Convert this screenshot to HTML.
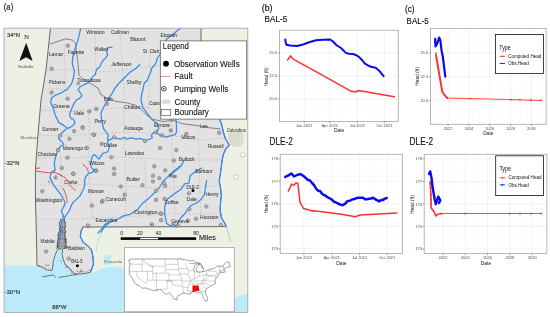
<!DOCTYPE html>
<html><head><meta charset="utf-8"><title>Figure</title>
<style>html,body{margin:0;padding:0;background:#fff;width:550px;height:317px;overflow:hidden}svg{display:block}text{font-family:"Liberation Sans", Arial, sans-serif}</style>
</head><body><svg width="550" height="317" viewBox="0 0 550 317"><defs><clipPath id="mapclip"><rect x="4" y="28.2" width="243.8" height="284.2"/></clipPath></defs><g clip-path="url(#mapclip)"><rect x="4" y="28.2" width="243.8" height="284.2" fill="#ecf1e4"/><path d="M228,133 L236,131.5 L243,133 L244,140 L241,146.5 L233,147 L229,143 Z" fill="#dcdccc"/><rect x="240.3" y="153" width="4.8" height="3.6" rx="0.6" fill="#fafafa" stroke="#999" stroke-width="0.4"/><rect x="233.5" y="175.2" width="4.4" height="3.6" rx="0.6" fill="#fafafa" stroke="#999" stroke-width="0.4"/><polygon points="4.0,264.5 10.0,265.5 16.0,264.5 22.0,265.8 30.0,265.2 37.0,266.0 42.0,266.0 52.0,268.0 55.0,258.0 57.0,249.0 61.0,247.0 63.0,249.0 64.0,258.0 70.0,268.0 76.0,274.5 85.0,274.0 92.0,273.3 99.0,270.0 106.9,267.3 113.2,266.4 122.7,267.7 125.0,268.5 180.0,285.0 234.0,298.0 248.0,293.0 248.0,312.0 4.0,312.0" fill="#bdeafb"/><polygon points="50.5,20.0 201.0,20.0 201.0,28.0 201.0,41.0 205.0,60.0 210.0,80.0 214.0,100.0 219.2,118.0 221.8,125.1 223.5,132.7 225.6,139.0 229.3,145.3 225.6,149.1 223.0,155.4 221.8,163.0 220.5,173.1 219.2,180.7 220.5,188.2 221.4,195.1 220.5,202.7 220.1,210.2 221.4,217.8 224.3,222.5 226.2,226.6 83.0,227.0 81.2,230.8 80.3,236.5 83.1,242.2 88.5,246.5 91.5,250.0 93.0,257.0 93.5,264.0 92.0,268.5 90.3,272.3 86.0,273.3 80.4,274.0 74.7,274.0 72.6,271.9 69.0,267.7 65.5,264.8 63.4,259.9 62.0,254.2 62.7,248.5 60.0,248.0 57.0,250.6 54.9,255.6 53.4,261.3 52.7,267.7 52.0,270.5 46.3,269.8 42.1,267.0 37.0,265.5 36.3,230.0 35.4,200.0 35.4,170.0 36.8,150.0 38.8,125.0 41.0,100.0 46.0,70.0 50.5,28.0" fill="#e2e2e2" stroke="#686868" stroke-width="1.0"/><polyline points="42.1,276.9 48,275.8 53.4,274.8 55.6,277.6" fill="none" stroke="#444" stroke-width="0.7"/><polyline points="58.4,277.6 64,276.5 70.5,275.5 77.6,274" fill="none" stroke="#444" stroke-width="0.7"/></g><g clip-path="url(#mapclip)"><polyline points="46.0,70.0 80.0,70.0 112.0,72.0 140.0,68.0 170.0,64.0 206.0,60.0" fill="none" stroke="#b4b4b4" stroke-width="0.55" stroke-dasharray="2.2,1.6"/><polyline points="44.0,88.0 70.0,90.0" fill="none" stroke="#b4b4b4" stroke-width="0.55" stroke-dasharray="2.2,1.6"/><polyline points="41.0,110.0 60.0,112.0 90.0,110.0 120.0,108.0 150.0,108.0" fill="none" stroke="#b4b4b4" stroke-width="0.55" stroke-dasharray="2.2,1.6"/><polyline points="39.0,135.0 62.0,136.0 90.0,134.0 130.0,132.0 160.0,134.0 200.0,140.0 224.0,138.0" fill="none" stroke="#b4b4b4" stroke-width="0.55" stroke-dasharray="2.2,1.6"/><polyline points="37.5,158.0 70.0,158.0 100.0,156.0 140.0,158.0 180.0,160.0 222.0,160.0" fill="none" stroke="#b4b4b4" stroke-width="0.55" stroke-dasharray="2.2,1.6"/><polyline points="36.3,185.0 60.0,186.0 90.0,184.0 120.0,186.0 160.0,188.0 200.0,186.0 220.0,186.0" fill="none" stroke="#b4b4b4" stroke-width="0.55" stroke-dasharray="2.2,1.6"/><polyline points="36.0,219.0 62.0,219.5 100.0,218.0 140.0,216.0 170.0,214.0 220.0,213.7" fill="none" stroke="#b4b4b4" stroke-width="0.55" stroke-dasharray="2.2,1.6"/><polyline points="64.0,40.0 65.0,70.0 66.0,100.0" fill="none" stroke="#b4b4b4" stroke-width="0.55" stroke-dasharray="2.2,1.6"/><polyline points="95.0,30.0 96.0,70.0" fill="none" stroke="#b4b4b4" stroke-width="0.55" stroke-dasharray="2.2,1.6"/><polyline points="120.0,30.0 122.0,60.0 124.0,90.0 124.0,120.0 125.0,160.0 126.0,190.0 125.0,218.0" fill="none" stroke="#b4b4b4" stroke-width="0.55" stroke-dasharray="2.2,1.6"/><polyline points="150.0,50.0 150.0,80.0 148.0,110.0" fill="none" stroke="#b4b4b4" stroke-width="0.55" stroke-dasharray="2.2,1.6"/><polyline points="88.0,110.0 90.0,135.0 88.0,160.0 90.0,190.0 92.0,218.0" fill="none" stroke="#b4b4b4" stroke-width="0.55" stroke-dasharray="2.2,1.6"/><polyline points="172.0,120.0 172.0,150.0 174.0,180.0 175.0,214.0" fill="none" stroke="#b4b4b4" stroke-width="0.55" stroke-dasharray="2.2,1.6"/><polyline points="198.0,130.0 199.0,160.0 200.0,190.0 201.0,214.0" fill="none" stroke="#b4b4b4" stroke-width="0.55" stroke-dasharray="2.2,1.6"/><polyline points="60.0,140.0 61.0,170.0 62.0,200.0" fill="none" stroke="#b4b4b4" stroke-width="0.55" stroke-dasharray="2.2,1.6"/><polyline points="145.0,160.0 146.0,190.0 147.0,215.0" fill="none" stroke="#b4b4b4" stroke-width="0.55" stroke-dasharray="2.2,1.6"/><polyline points="50.0,44.0 65.2,38.9 72.8,40.2 75.3,43.2 77.9,62.9 79.1,75.5 81.7,78.0 98.0,88.1 100.6,94.4 106.9,98.2 115.2,101.3 125.3,102.6 135.4,105.1 140.4,108.9 145.5,113.9 151.8,119.0 163.1,121.5 173.2,120.3 182.6,123.8 197.8,125.6 207.9,127.6 220.5,128.9" fill="none" stroke="#6a6a6a" stroke-width="0.8"/><polyline points="35.0,171.0 41.4,171.9 48.9,172.8 55.2,171.8" fill="none" stroke="#f03c3c" stroke-width="0.9"/><polyline points="52.7,171.9 60.3,174.7 65.0,177.6 67.9,181.4" fill="none" stroke="#f03c3c" stroke-width="0.9"/><polyline points="58.4,173.8 62.2,176.6" fill="none" stroke="#f03c3c" stroke-width="0.9"/><polyline points="48.0,180.4 49.9,183.3" fill="none" stroke="#f03c3c" stroke-width="0.9"/><polyline points="63.1,188.0 65.0,192.7 66.9,198.4 66.9,203.1" fill="none" stroke="#f03c3c" stroke-width="0.9"/><polyline points="68.8,184.2 72.6,188.0 75.5,190.8" fill="none" stroke="#f03c3c" stroke-width="0.9"/><polyline points="82.6,164.2 86.4,167.1 88.3,171.8" fill="none" stroke="#f03c3c" stroke-width="0.9"/><polyline points="35.0,168.5 40.0,168.0" fill="none" stroke="#f03c3c" stroke-width="0.9"/><polyline points="226.2,226.3 227.5,230 229,236 231,242" fill="none" stroke="#a9c4dc" stroke-width="0.8"/><polyline points="101.3,232.1 99,238 97,245 96,252" fill="none" stroke="#b5d3ea" stroke-width="0.8"/><path d="M103.7,265 L104.5,259 L103.5,254.5 L106.5,256.8 L109,254.3 L111.8,256 L110.3,260 L113,264 Z" fill="#bdeafb"/><polyline points="81.1,27.0 77.9,40.2 75.3,47.7 72.8,56.6 72.3,64.1 74.4,70.7 73.4,78.3 71.5,83.9 67.7,88.7 62.0,92.5 55.4,95.3 51.6,98.1 50.7,102.9 53.5,108.6 55.2,115.0 57.0,118.8 58.9,122.6 63.7,125.4 67.5,128.3 64.6,130.2 61.8,133.0 58.9,135.8 58.6,138.7 61.8,141.5 63.7,144.4 60.8,146.3 58.0,149.1 57.0,152.9 55.2,158.6 54.2,164.2 55.2,169.9 51.8,172.0 50.8,173.8 49.9,177.6 51.8,181.4 53.7,185.2 56.5,188.9 59.4,192.7 62.2,196.5 64.1,200.3 65.0,204.1 63.1,207.9 61.3,210.7 63.1,215.5 64.5,218.0 63.9,221.0" fill="none" stroke="#3a8ae8" stroke-width="1.25" stroke-linejoin="round" stroke-linecap="round"/><polyline points="112.1,47.1 107.7,47.7 106.6,51.5 107.7,54.8 105.5,58.1 103.2,60.3 101.0,63.6 99.9,66.9 96.6,69.2 95.2,74.5 93.3,76.0 91.1,79.5 89.0,82.5 85.7,83.9 80.0,86.8 78.1,89.6 80.0,92.5 81.9,95.3 80.0,98.1 76.3,100.0 74.4,102.9 72.5,106.7 70.6,111.4 69.6,115.2 71.5,119.0 73.1,118.8 75.0,122.6 73.1,125.4 70.3,127.3 67.5,128.3" fill="none" stroke="#3a8ae8" stroke-width="1.25" stroke-linejoin="round" stroke-linecap="round"/><polyline points="139.7,64.7 136.4,68.0 129.7,72.5 124.2,78.0 118.7,83.5 114.3,89.0 112.1,93.4 110.1,96.0 106.3,102.6 103.0,108.5 101.0,113.0 101.5,119.0 102.7,125.0 103.7,128.8 106.5,132.6 108.4,135.4 107.5,139.2 108.4,140.2" fill="none" stroke="#3a8ae8" stroke-width="1.25" stroke-linejoin="round" stroke-linecap="round"/><polyline points="183.2,27.0 178.2,30.0 171.9,35.1 166.8,38.9 162.0,46.0 160.0,54.8 157.3,58.1 156.2,62.5 154.0,65.8 151.8,68.0 150.7,72.5 148.5,76.9 147.4,80.2 144.1,83.5 143.0,89.0 141.9,93.4 140.9,100.0 142.9,107.6 146.7,112.7 150.5,117.7 152.5,120.1 155.0,122.0 156.9,123.3 158.2,126.4 158.8,128.9 156.9,130.8 154.4,132.1 152.5,133.4 151.3,135.9 152.5,137.8 150.0,139.0" fill="none" stroke="#3a8ae8" stroke-width="1.25" stroke-linejoin="round" stroke-linecap="round"/><polyline points="175.9,117.0 176.5,126.4 176.5,132.1 175.3,134.6 170.2,135.9 166.4,137.1 163.9,136.5 160.1,135.3 157.6,133.4 156.3,130.8" fill="none" stroke="#3a8ae8" stroke-width="1.25" stroke-linejoin="round" stroke-linecap="round"/><polyline points="150.0,139.0 145.5,140.5 140.0,138.3 136.8,139.2 131.1,137.9 126.4,139.2 124.5,137.3 120.7,139.2 116.9,138.3 114.1,137.3 111.3,139.2 108.4,140.2 107.5,143.0 109.4,146.8 108.4,150.6 106.5,152.5 102.7,153.4 100.8,156.3 98.9,159.1 97.0,157.2 94.2,154.4 92.3,156.3 91.4,160.0 90.4,163.8 91.4,167.6 94.2,170.5 92.3,172.3 88.5,173.3 85.5,177.0 84.5,181.0 84.9,184.0 84.0,188.0 82.1,191.8 80.2,195.6 76.4,199.4 72.6,203.1 70.7,206.9 69.8,209.8 67.9,212.6 66.0,215.5 64.5,218.0" fill="none" stroke="#3a8ae8" stroke-width="1.25" stroke-linejoin="round" stroke-linecap="round"/><polyline points="180.0,166.3 173.2,171.4 168.2,176.4 163.1,181.5 159.3,187.8 154.3,192.8 149.2,197.9 142.9,202.9 137.9,209.2 130.3,214.3 124.0,215.6 117.7,219.3 110.1,221.9 105.0,224.4 101.3,229.4 98.0,233.0" fill="none" stroke="#3a8ae8" stroke-width="1.25" stroke-linejoin="round" stroke-linecap="round"/><polyline points="183.9,160.5 181.4,165.5 177.6,169.3 172.5,173.1 170.0,175.6" fill="none" stroke="#3a8ae8" stroke-width="1.25" stroke-linejoin="round" stroke-linecap="round"/><polyline points="201.6,168.0 195.3,171.8 190.2,175.6 188.9,183.2 184.6,183.8 180.8,189.5 175.1,193.2 167.6,198.9 164.7,206.5 164.7,214.0 166.6,223.5 171.3,226.3 177.0,225.4" fill="none" stroke="#3a8ae8" stroke-width="1.25" stroke-linejoin="round" stroke-linecap="round"/><polyline points="206.6,180.7 205.4,188.2 204.4,194.2 201.6,198.9 196.9,202.7 191.2,205.5 188.4,208.4 184.6,214.0 180.8,217.8 178.0,222.5 176.1,227.3" fill="none" stroke="#3a8ae8" stroke-width="1.25" stroke-linejoin="round" stroke-linecap="round"/><polyline points="219.2,118.0 221.8,125.1 223.5,132.7 225.6,139.0 229.3,145.3 225.6,149.1 223.0,155.4 221.8,163.0 220.5,173.1 219.2,180.7 220.5,188.2 221.4,195.1 220.5,202.7 220.1,210.2 221.4,217.8 224.3,222.5 226.2,226.3" fill="none" stroke="#3a8ae8" stroke-width="1.25" stroke-linejoin="round" stroke-linecap="round"/><polyline points="83.1,227.0 81.2,230.8 80.3,236.5 83.1,242.2 88.5,246.5 91.5,250.0 93.0,257.0 93.5,264.0 92.0,268.5 90.3,272.3" fill="none" stroke="#3a8ae8" stroke-width="1.25" stroke-linejoin="round" stroke-linecap="round"/><polyline points="110.0,222.3 106.0,225.5 103.0,229.0 101.3,232.1" fill="none" stroke="#3a8ae8" stroke-width="1.25" stroke-linejoin="round" stroke-linecap="round"/><polygon points="61,221 64.5,220 65.3,232 66,242 67,249 56,249 57.5,241 59.8,230" fill="#a5a5a5"/><polyline points="60.5,219.0 60.9,219.9 60.6,220.8 59.7,221.9 59.5,223.1 59.4,224.2 59.9,225.1 59.2,226.6 59.9,227.5 59.6,229.1 60.1,230.2 59.8,231.0 58.5,232.1 58.6,233.0 58.2,234.4 58.8,235.7 58.5,236.8 57.6,237.6 58.5,238.6 57.7,239.7 57.8,241.0 58.2,242.1 57.1,243.4 57.4,244.7 57.5,246.2 57.8,247.2 56.8,248.1" fill="none" stroke="#1e1e1e" stroke-width="0.65"/><polyline points="64.0,219.0 63.9,220.2 65.2,221.5 65.4,222.8 65.2,223.8 65.1,225.1 65.5,226.3 65.0,227.8 64.4,229.2 65.5,230.5 65.8,232.1 65.2,233.1 64.7,234.5 65.0,235.7 64.8,236.5 65.0,238.0 65.5,239.0 65.1,240.5 65.9,241.6 66.4,243.1 65.6,244.6 65.8,245.7 66.8,247.3 65.6,248.2" fill="none" stroke="#1e1e1e" stroke-width="0.65"/><path d="M62.2,232.1l0.2,-0.7M62.4,221.1l-0.4,0.2M63.7,248.2l0.0,0.3M57.9,242.9l1.1,0.8M64.8,246.8l-0.3,-0.3M63.2,227.4l-1.2,-1.2M60.2,231.3l-0.4,-1.3M61.4,220.2l-1.1,-0.4M64.3,223.2l0.3,-1.0M61.3,232.7l-0.4,-1.1M66.7,246.3l-0.1,-0.0M60.4,226.6l-0.4,-0.7M58.5,245.9l-1.3,1.3M59.1,239.8l0.1,-1.3M66.1,239.8l1.0,0.5M61.4,233.0l-0.9,0.8M64.4,239.9l-0.5,-0.8M66.6,245.6l1.0,0.9M64.2,245.7l-0.8,0.0M58.7,235.6l-1.3,-0.6M63.6,232.9l1.3,-0.1M66.8,247.9l1.3,-0.4M60.6,231.7l-0.8,-0.8M65.5,241.9l1.0,-0.1M64.7,242.5l-1.2,0.4M64.7,247.4l0.7,-0.1M64.1,230.3l-0.5,0.8M60.7,248.5l-0.3,1.3M58.8,243.9l-1.0,-1.0M64.9,247.3l-1.0,0.9M63.4,248.7l-0.4,0.1M59.6,228.6l1.3,0.4M65.7,239.7l-0.2,1.0M59.0,245.9l-0.7,-0.6M62.9,232.3l-0.7,-0.2M64.8,228.6l-0.4,-0.1M65.5,241.0l-0.2,1.2M62.3,239.2l0.1,-1.3M59.6,237.7l-1.4,0.8M62.2,230.1l0.6,0.2M62.4,234.8l0.2,0.8M62.8,227.5l-0.7,-0.6M62.0,244.8l0.2,0.7M61.2,247.4l0.3,0.0M63.7,239.4l-0.1,0.1M65.7,238.6l0.6,1.1M59.3,248.0l0.2,1.2M58.3,246.1l-1.1,-0.2M61.2,226.0l-1.2,0.5M65.7,245.1l-1.0,0.6M58.7,242.6l1.1,1.3M65.2,231.7l-0.3,-0.0M65.2,248.8l-0.9,-0.2M60.7,239.5l-0.9,-0.5M57.5,243.9l0.2,-0.2M61.9,222.6l0.3,0.0M65.0,225.6l0.8,1.3M61.2,227.5l-1.3,0.8M59.7,233.2l-0.2,1.2M59.5,245.7l-1.0,1.2" stroke="#1e1e1e" stroke-width="0.6" fill="none"/><polyline points="63.9,215 62,220 60.7,225.1 61.4,230.2 60.1,236.5 58.8,242.8 58.2,246" fill="none" stroke="#3a8ae8" stroke-width="1.2"/><path d="M78.3,272.0l-1.2,-0.9M82.0,271.0l-1.3,0.9M80.3,272.3l-1.2,0.7M62.1,263.6l-0.5,0.1M89.7,270.4l-1.1,0.1M67.6,267.1l-1.3,-0.6M70.0,270.8l-0.6,0.0M65.7,265.1l-0.7,-1.0M83.5,271.4l-0.9,-0.1M89.9,269.9l1.0,-0.1M75.8,272.4l-0.3,0.0M82.0,272.9l-0.5,0.7M82.6,271.7l-0.3,-0.3M61.7,262.1l0.7,-0.5M65.2,267.2l1.1,0.3M69.0,268.6l-0.1,-0.7M74.3,274.8l1.4,0.1M67.8,267.7l-0.4,-1.0M72.2,271.8l-0.9,0.0M60.2,260.9l-0.3,-0.9M60.7,261.8l0.3,0.1M84.0,271.8l0.6,0.8M72.5,273.4l-1.1,0.4M80.6,269.7l1.0,0.8M80.1,272.1l0.9,-0.7M76.8,271.3l1.0,0.6M86.4,271.5l1.2,0.4M82.2,270.3l-1.4,-0.7M71.5,272.2l0.2,0.3M80.0,271.9l-0.0,-1.0M50.0,267.6l0.0,0.1M47.9,265.2l0.7,-0.5M39.1,265.9l0.7,-0.6M49.1,268.4l-0.0,-0.2M45.2,267.4l0.8,0.2M47.6,265.3l-1.1,-0.5M49.1,266.1l0.2,-1.0M38.9,265.9l0.5,0.4M48.1,266.0l0.0,-0.1M45.0,265.4l1.2,-0.6" stroke="#2a2a2a" stroke-width="0.5" fill="none"/></g><g clip-path="url(#mapclip)"><circle cx="67.8" cy="45.7" r="1.75" fill="#d4d4d4" stroke="#5e5e5e" stroke-width="0.6"/><circle cx="67.8" cy="45.7" r="0.55" fill="#333"/><circle cx="51.6" cy="68.8" r="1.75" fill="#d4d4d4" stroke="#5e5e5e" stroke-width="0.6"/><circle cx="51.6" cy="68.8" r="0.55" fill="#333"/><circle cx="51.6" cy="92.5" r="1.75" fill="#d4d4d4" stroke="#5e5e5e" stroke-width="0.6"/><circle cx="51.6" cy="92.5" r="0.55" fill="#333"/><circle cx="67.7" cy="98.7" r="1.75" fill="#d4d4d4" stroke="#5e5e5e" stroke-width="0.6"/><circle cx="67.7" cy="98.7" r="0.55" fill="#333"/><circle cx="106.9" cy="103.8" r="1.75" fill="#d4d4d4" stroke="#5e5e5e" stroke-width="0.6"/><circle cx="106.9" cy="103.8" r="0.55" fill="#333"/><circle cx="59.9" cy="135.8" r="1.75" fill="#d4d4d4" stroke="#5e5e5e" stroke-width="0.6"/><circle cx="59.9" cy="135.8" r="0.55" fill="#333"/><circle cx="69.4" cy="138.7" r="1.75" fill="#d4d4d4" stroke="#5e5e5e" stroke-width="0.6"/><circle cx="69.4" cy="138.7" r="0.55" fill="#333"/><circle cx="74.1" cy="131.1" r="1.75" fill="#d4d4d4" stroke="#5e5e5e" stroke-width="0.6"/><circle cx="74.1" cy="131.1" r="0.55" fill="#333"/><circle cx="82.6" cy="127.3" r="1.75" fill="#d4d4d4" stroke="#5e5e5e" stroke-width="0.6"/><circle cx="82.6" cy="127.3" r="0.55" fill="#333"/><circle cx="86.4" cy="148.1" r="1.75" fill="#d4d4d4" stroke="#5e5e5e" stroke-width="0.6"/><circle cx="86.4" cy="148.1" r="0.55" fill="#333"/><circle cx="58" cy="150" r="1.75" fill="#d4d4d4" stroke="#5e5e5e" stroke-width="0.6"/><circle cx="58" cy="150" r="0.55" fill="#333"/><circle cx="67.5" cy="157.6" r="1.75" fill="#d4d4d4" stroke="#5e5e5e" stroke-width="0.6"/><circle cx="67.5" cy="157.6" r="0.55" fill="#333"/><circle cx="61.8" cy="168" r="1.75" fill="#d4d4d4" stroke="#5e5e5e" stroke-width="0.6"/><circle cx="61.8" cy="168" r="0.55" fill="#333"/><circle cx="73.1" cy="173.7" r="1.75" fill="#d4d4d4" stroke="#5e5e5e" stroke-width="0.6"/><circle cx="73.1" cy="173.7" r="0.55" fill="#333"/><circle cx="89.3" cy="111.4" r="1.75" fill="#d4d4d4" stroke="#5e5e5e" stroke-width="0.6"/><circle cx="89.3" cy="111.4" r="0.55" fill="#333"/><circle cx="96.2" cy="108.9" r="1.75" fill="#d4d4d4" stroke="#5e5e5e" stroke-width="0.6"/><circle cx="96.2" cy="108.9" r="0.55" fill="#333"/><circle cx="94" cy="134.9" r="1.75" fill="#d4d4d4" stroke="#5e5e5e" stroke-width="0.6"/><circle cx="94" cy="134.9" r="0.55" fill="#333"/><circle cx="101.8" cy="143.9" r="1.75" fill="#d4d4d4" stroke="#5e5e5e" stroke-width="0.6"/><circle cx="101.8" cy="143.9" r="0.55" fill="#333"/><circle cx="82.8" cy="127.8" r="1.75" fill="#d4d4d4" stroke="#5e5e5e" stroke-width="0.6"/><circle cx="82.8" cy="127.8" r="0.55" fill="#333"/><circle cx="93.3" cy="134.5" r="1.75" fill="#d4d4d4" stroke="#5e5e5e" stroke-width="0.6"/><circle cx="93.3" cy="134.5" r="0.55" fill="#333"/><circle cx="114.1" cy="137.3" r="1.75" fill="#d4d4d4" stroke="#5e5e5e" stroke-width="0.6"/><circle cx="114.1" cy="137.3" r="0.55" fill="#333"/><circle cx="86.6" cy="147.7" r="1.75" fill="#d4d4d4" stroke="#5e5e5e" stroke-width="0.6"/><circle cx="86.6" cy="147.7" r="0.55" fill="#333"/><circle cx="111.3" cy="157.2" r="1.75" fill="#d4d4d4" stroke="#5e5e5e" stroke-width="0.6"/><circle cx="111.3" cy="157.2" r="0.55" fill="#333"/><circle cx="96.1" cy="170.5" r="1.75" fill="#d4d4d4" stroke="#5e5e5e" stroke-width="0.6"/><circle cx="96.1" cy="170.5" r="0.55" fill="#333"/><circle cx="114.1" cy="168.6" r="1.75" fill="#d4d4d4" stroke="#5e5e5e" stroke-width="0.6"/><circle cx="114.1" cy="168.6" r="0.55" fill="#333"/><circle cx="114.1" cy="173.9" r="1.75" fill="#d4d4d4" stroke="#5e5e5e" stroke-width="0.6"/><circle cx="114.1" cy="173.9" r="0.55" fill="#333"/><circle cx="95.9" cy="170.9" r="1.75" fill="#d4d4d4" stroke="#5e5e5e" stroke-width="0.6"/><circle cx="95.9" cy="170.9" r="0.55" fill="#333"/><circle cx="55.6" cy="177.6" r="1.75" fill="#d4d4d4" stroke="#5e5e5e" stroke-width="0.6"/><circle cx="55.6" cy="177.6" r="0.55" fill="#333"/><circle cx="73.6" cy="173.8" r="1.75" fill="#d4d4d4" stroke="#5e5e5e" stroke-width="0.6"/><circle cx="73.6" cy="173.8" r="0.55" fill="#333"/><circle cx="42.3" cy="191.2" r="1.75" fill="#d4d4d4" stroke="#5e5e5e" stroke-width="0.6"/><circle cx="42.3" cy="191.2" r="0.55" fill="#333"/><circle cx="91.9" cy="205.5" r="1.75" fill="#d4d4d4" stroke="#5e5e5e" stroke-width="0.6"/><circle cx="91.9" cy="205.5" r="0.55" fill="#333"/><circle cx="102" cy="201.7" r="1.75" fill="#d4d4d4" stroke="#5e5e5e" stroke-width="0.6"/><circle cx="102" cy="201.7" r="0.55" fill="#333"/><circle cx="88.1" cy="226.2" r="1.75" fill="#d4d4d4" stroke="#5e5e5e" stroke-width="0.6"/><circle cx="88.1" cy="226.2" r="0.55" fill="#333"/><circle cx="145" cy="141" r="1.75" fill="#d4d4d4" stroke="#5e5e5e" stroke-width="0.6"/><circle cx="145" cy="141" r="0.55" fill="#333"/><circle cx="156.1" cy="132.4" r="1.75" fill="#d4d4d4" stroke="#5e5e5e" stroke-width="0.6"/><circle cx="156.1" cy="132.4" r="0.55" fill="#333"/><circle cx="161.9" cy="135.4" r="1.75" fill="#d4d4d4" stroke="#5e5e5e" stroke-width="0.6"/><circle cx="161.9" cy="135.4" r="0.55" fill="#333"/><circle cx="170.7" cy="130.4" r="1.75" fill="#d4d4d4" stroke="#5e5e5e" stroke-width="0.6"/><circle cx="170.7" cy="130.4" r="0.55" fill="#333"/><circle cx="160.1" cy="148" r="1.75" fill="#d4d4d4" stroke="#5e5e5e" stroke-width="0.6"/><circle cx="160.1" cy="148" r="0.55" fill="#333"/><circle cx="176.3" cy="150" r="1.75" fill="#d4d4d4" stroke="#5e5e5e" stroke-width="0.6"/><circle cx="176.3" cy="150" r="0.55" fill="#333"/><circle cx="154.3" cy="166.2" r="1.75" fill="#d4d4d4" stroke="#5e5e5e" stroke-width="0.6"/><circle cx="154.3" cy="166.2" r="0.55" fill="#333"/><circle cx="165.2" cy="170.3" r="1.75" fill="#d4d4d4" stroke="#5e5e5e" stroke-width="0.6"/><circle cx="165.2" cy="170.3" r="0.55" fill="#333"/><circle cx="153" cy="175.7" r="1.75" fill="#d4d4d4" stroke="#5e5e5e" stroke-width="0.6"/><circle cx="153" cy="175.7" r="0.55" fill="#333"/><circle cx="159.3" cy="178.2" r="1.75" fill="#d4d4d4" stroke="#5e5e5e" stroke-width="0.6"/><circle cx="159.3" cy="178.2" r="0.55" fill="#333"/><circle cx="153" cy="181.5" r="1.75" fill="#d4d4d4" stroke="#5e5e5e" stroke-width="0.6"/><circle cx="153" cy="181.5" r="0.55" fill="#333"/><circle cx="142.4" cy="185.3" r="1.75" fill="#d4d4d4" stroke="#5e5e5e" stroke-width="0.6"/><circle cx="142.4" cy="185.3" r="0.55" fill="#333"/><circle cx="120.7" cy="186.5" r="1.75" fill="#d4d4d4" stroke="#5e5e5e" stroke-width="0.6"/><circle cx="120.7" cy="186.5" r="0.55" fill="#333"/><circle cx="124.7" cy="194.8" r="1.75" fill="#d4d4d4" stroke="#5e5e5e" stroke-width="0.6"/><circle cx="124.7" cy="194.8" r="0.55" fill="#333"/><circle cx="102.5" cy="200.9" r="1.75" fill="#d4d4d4" stroke="#5e5e5e" stroke-width="0.6"/><circle cx="102.5" cy="200.9" r="0.55" fill="#333"/><circle cx="156.1" cy="190.8" r="1.75" fill="#d4d4d4" stroke="#5e5e5e" stroke-width="0.6"/><circle cx="156.1" cy="190.8" r="0.55" fill="#333"/><circle cx="165.2" cy="185.8" r="1.75" fill="#d4d4d4" stroke="#5e5e5e" stroke-width="0.6"/><circle cx="165.2" cy="185.8" r="0.55" fill="#333"/><circle cx="156.1" cy="199.9" r="1.75" fill="#d4d4d4" stroke="#5e5e5e" stroke-width="0.6"/><circle cx="156.1" cy="199.9" r="0.55" fill="#333"/><circle cx="160.6" cy="213.5" r="1.75" fill="#d4d4d4" stroke="#5e5e5e" stroke-width="0.6"/><circle cx="160.6" cy="213.5" r="0.55" fill="#333"/><circle cx="161.1" cy="220.1" r="1.75" fill="#d4d4d4" stroke="#5e5e5e" stroke-width="0.6"/><circle cx="161.1" cy="220.1" r="0.55" fill="#333"/><circle cx="151.8" cy="224.4" r="1.75" fill="#d4d4d4" stroke="#5e5e5e" stroke-width="0.6"/><circle cx="151.8" cy="224.4" r="0.55" fill="#333"/><circle cx="173.2" cy="224.4" r="1.75" fill="#d4d4d4" stroke="#5e5e5e" stroke-width="0.6"/><circle cx="173.2" cy="224.4" r="0.55" fill="#333"/><circle cx="219.2" cy="132.7" r="1.75" fill="#d4d4d4" stroke="#5e5e5e" stroke-width="0.6"/><circle cx="219.2" cy="132.7" r="0.55" fill="#333"/><circle cx="186.4" cy="133.9" r="1.75" fill="#d4d4d4" stroke="#5e5e5e" stroke-width="0.6"/><circle cx="186.4" cy="133.9" r="0.55" fill="#333"/><circle cx="173.8" cy="160.5" r="1.75" fill="#d4d4d4" stroke="#5e5e5e" stroke-width="0.6"/><circle cx="173.8" cy="160.5" r="0.55" fill="#333"/><circle cx="188.9" cy="193.3" r="1.75" fill="#d4d4d4" stroke="#5e5e5e" stroke-width="0.6"/><circle cx="188.9" cy="193.3" r="0.55" fill="#333"/><circle cx="171.3" cy="120" r="1.75" fill="#d4d4d4" stroke="#5e5e5e" stroke-width="0.6"/><circle cx="171.3" cy="120" r="0.55" fill="#333"/><circle cx="163.8" cy="182.8" r="1.75" fill="#d4d4d4" stroke="#5e5e5e" stroke-width="0.6"/><circle cx="163.8" cy="182.8" r="0.55" fill="#333"/><circle cx="164.7" cy="198.9" r="1.75" fill="#d4d4d4" stroke="#5e5e5e" stroke-width="0.6"/><circle cx="164.7" cy="198.9" r="0.55" fill="#333"/><circle cx="189.3" cy="209.3" r="1.75" fill="#d4d4d4" stroke="#5e5e5e" stroke-width="0.6"/><circle cx="189.3" cy="209.3" r="0.55" fill="#333"/><circle cx="206.3" cy="206.5" r="1.75" fill="#d4d4d4" stroke="#5e5e5e" stroke-width="0.6"/><circle cx="206.3" cy="206.5" r="0.55" fill="#333"/><circle cx="161.5" cy="214" r="1.75" fill="#d4d4d4" stroke="#5e5e5e" stroke-width="0.6"/><circle cx="161.5" cy="214" r="0.55" fill="#333"/><circle cx="195.9" cy="218.8" r="1.75" fill="#d4d4d4" stroke="#5e5e5e" stroke-width="0.6"/><circle cx="195.9" cy="218.8" r="0.55" fill="#333"/><circle cx="188" cy="220.6" r="1.75" fill="#d4d4d4" stroke="#5e5e5e" stroke-width="0.6"/><circle cx="188" cy="220.6" r="0.55" fill="#333"/><circle cx="178" cy="225.4" r="1.75" fill="#d4d4d4" stroke="#5e5e5e" stroke-width="0.6"/><circle cx="178" cy="225.4" r="0.55" fill="#333"/><circle cx="220.9" cy="225" r="1.75" fill="#d4d4d4" stroke="#5e5e5e" stroke-width="0.6"/><circle cx="220.9" cy="225" r="0.55" fill="#333"/><circle cx="46" cy="251.5" r="1.75" fill="#d4d4d4" stroke="#5e5e5e" stroke-width="0.6"/><circle cx="46" cy="251.5" r="0.55" fill="#333"/><circle cx="68.8" cy="258.7" r="1.75" fill="#d4d4d4" stroke="#5e5e5e" stroke-width="0.6"/><circle cx="68.8" cy="258.7" r="0.55" fill="#333"/><circle cx="87.9" cy="225.5" r="1.75" fill="#d4d4d4" stroke="#5e5e5e" stroke-width="0.6"/><circle cx="87.9" cy="225.5" r="0.55" fill="#333"/><rect x="76.5" y="81.5" width="3.5" height="3.5" fill="#a8a8a8"/><text x="86.3" y="33.5" font-size="5.6" textLength="18.3" lengthAdjust="spacingAndGlyphs" fill="#3c3c3c" stroke="#3c3c3c" stroke-width="0.06">Winston</text><text x="110.9" y="33.5" font-size="5.6" textLength="18.0" lengthAdjust="spacingAndGlyphs" fill="#3c3c3c" stroke="#3c3c3c" stroke-width="0.06">Cullman</text><text x="130.2" y="41.1" font-size="5.6" textLength="15.2" lengthAdjust="spacingAndGlyphs" fill="#3c3c3c" stroke="#3c3c3c" stroke-width="0.06">Blount</text><text x="160.5" y="37.1" font-size="5.6" textLength="16.5" lengthAdjust="spacingAndGlyphs" fill="#3c3c3c" stroke="#3c3c3c" stroke-width="0.06">Etowah</text><text x="142.8" y="53.0" font-size="5.6" textLength="16.4" lengthAdjust="spacingAndGlyphs" fill="#3c3c3c" stroke="#3c3c3c" stroke-width="0.06">St. Clair</text><text x="111.3" y="66.4" font-size="5.6" textLength="20.2" lengthAdjust="spacingAndGlyphs" fill="#3c3c3c" stroke="#3c3c3c" stroke-width="0.06">Jefferson</text><text x="126.4" y="84.1" font-size="5.6" textLength="15.2" lengthAdjust="spacingAndGlyphs" fill="#3c3c3c" stroke="#3c3c3c" stroke-width="0.06">Shelby</text><text x="94.3" y="51.2" font-size="5.6" textLength="13.9" lengthAdjust="spacingAndGlyphs" fill="#3c3c3c" stroke="#3c3c3c" stroke-width="0.06">Walker</text><text x="48.8" y="56.3" font-size="5.6" textLength="14.4" lengthAdjust="spacingAndGlyphs" fill="#3c3c3c" stroke="#3c3c3c" stroke-width="0.06">Lamar</text><text x="67.8" y="53.8" font-size="5.6" textLength="16.4" lengthAdjust="spacingAndGlyphs" fill="#3c3c3c" stroke="#3c3c3c" stroke-width="0.06">Fayette</text><text x="48.8" y="84.1" font-size="5.6" textLength="16.5" lengthAdjust="spacingAndGlyphs" fill="#3c3c3c" stroke="#3c3c3c" stroke-width="0.06">Pickens</text><text x="77.4" y="82.1" font-size="5.6" textLength="23.2" lengthAdjust="spacingAndGlyphs" fill="#3c3c3c" stroke="#3c3c3c" stroke-width="0.06">Tuscaloosa</text><text x="103.8" y="101.0" font-size="5.6" textLength="8.8" lengthAdjust="spacingAndGlyphs" fill="#3c3c3c" stroke="#3c3c3c" stroke-width="0.06">Bibb</text><text x="53.2" y="107.9" font-size="5.6" textLength="16.7" lengthAdjust="spacingAndGlyphs" fill="#3c3c3c" stroke="#3c3c3c" stroke-width="0.06">Greene</text><text x="74.2" y="115.4" font-size="5.6" textLength="10.1" lengthAdjust="spacingAndGlyphs" fill="#3c3c3c" stroke="#3c3c3c" stroke-width="0.06">Hale</text><text x="94.4" y="123.0" font-size="5.6" textLength="11.4" lengthAdjust="spacingAndGlyphs" fill="#3c3c3c" stroke="#3c3c3c" stroke-width="0.06">Perry</text><text x="42.1" y="130.6" font-size="5.6" textLength="16.4" lengthAdjust="spacingAndGlyphs" fill="#3c3c3c" stroke="#3c3c3c" stroke-width="0.06">Sumter</text><text x="124" y="109.1" font-size="5.6" textLength="16.4" lengthAdjust="spacingAndGlyphs" fill="#3c3c3c" stroke="#3c3c3c" stroke-width="0.06">Chilton</text><text x="149.2" y="105.3" font-size="5.6" textLength="12.8" lengthAdjust="spacingAndGlyphs" fill="#3c3c3c" stroke="#3c3c3c" stroke-width="0.06">Coosa</text><text x="124" y="129.8" font-size="5.6" textLength="18.9" lengthAdjust="spacingAndGlyphs" fill="#3c3c3c" stroke="#3c3c3c" stroke-width="0.06">Autauga</text><text x="153.8" y="127.3" font-size="5.6" textLength="16.4" lengthAdjust="spacingAndGlyphs" fill="#3c3c3c" stroke="#3c3c3c" stroke-width="0.06">Elmore</text><text x="103.8" y="146.5" font-size="5.6" textLength="13.4" lengthAdjust="spacingAndGlyphs" fill="#3c3c3c" stroke="#3c3c3c" stroke-width="0.06">Dallas</text><text x="124.7" y="154.6" font-size="5.6" textLength="19.5" lengthAdjust="spacingAndGlyphs" fill="#3c3c3c" stroke="#3c3c3c" stroke-width="0.06">Lowndes</text><text x="62.8" y="150.3" font-size="5.6" textLength="20.2" lengthAdjust="spacingAndGlyphs" fill="#3c3c3c" stroke="#3c3c3c" stroke-width="0.06">Marengo</text><text x="37.6" y="156.3" font-size="5.6" textLength="18.9" lengthAdjust="spacingAndGlyphs" fill="#3c3c3c" stroke="#3c3c3c" stroke-width="0.06">Choctaw</text><text x="89.3" y="164.7" font-size="5.6" textLength="15.2" lengthAdjust="spacingAndGlyphs" fill="#3c3c3c" stroke="#3c3c3c" stroke-width="0.06">Wilcox</text><text x="64.1" y="184.2" font-size="5.6" textLength="13.4" lengthAdjust="spacingAndGlyphs" fill="#3c3c3c" stroke="#3c3c3c" stroke-width="0.06">Clarke</text><text x="88.1" y="192.6" font-size="5.6" textLength="15.6" lengthAdjust="spacingAndGlyphs" fill="#3c3c3c" stroke="#3c3c3c" stroke-width="0.06">Monroe</text><text x="35.6" y="201.9" font-size="5.6" textLength="26.7" lengthAdjust="spacingAndGlyphs" fill="#3c3c3c" stroke="#3c3c3c" stroke-width="0.06">Washington</text><text x="126.5" y="181.2" font-size="5.6" textLength="13.4" lengthAdjust="spacingAndGlyphs" fill="#3c3c3c" stroke="#3c3c3c" stroke-width="0.06">Butler</text><text x="105.6" y="201.1" font-size="5.6" textLength="20.2" lengthAdjust="spacingAndGlyphs" fill="#3c3c3c" stroke="#3c3c3c" stroke-width="0.06">Conecuh</text><text x="134.1" y="214.0" font-size="5.6" textLength="23.5" lengthAdjust="spacingAndGlyphs" fill="#3c3c3c" stroke="#3c3c3c" stroke-width="0.06">Covington</text><text x="95.4" y="222.0" font-size="5.6" textLength="21.8" lengthAdjust="spacingAndGlyphs" fill="#3c3c3c" stroke="#3c3c3c" stroke-width="0.06">Escambia</text><text x="168.7" y="177.9" font-size="5.6" textLength="8.3" lengthAdjust="spacingAndGlyphs" fill="#3c3c3c" stroke="#3c3c3c" stroke-width="0.06">Pike</text><text x="164.4" y="203.9" font-size="5.6" textLength="14.4" lengthAdjust="spacingAndGlyphs" fill="#3c3c3c" stroke="#3c3c3c" stroke-width="0.06">Coffee</text><text x="171.3" y="223.1" font-size="5.6" textLength="17.1" lengthAdjust="spacingAndGlyphs" fill="#3c3c3c" stroke="#3c3c3c" stroke-width="0.06">Geneva</text><text x="186.5" y="201.3" font-size="5.6" textLength="10.4" lengthAdjust="spacingAndGlyphs" fill="#3c3c3c" stroke="#3c3c3c" stroke-width="0.06">Dale</text><text x="205.4" y="196.2" font-size="5.6" textLength="13.2" lengthAdjust="spacingAndGlyphs" fill="#3c3c3c" stroke="#3c3c3c" stroke-width="0.06">Henry</text><text x="200.1" y="219.3" font-size="5.6" textLength="18.5" lengthAdjust="spacingAndGlyphs" fill="#3c3c3c" stroke="#3c3c3c" stroke-width="0.06">Houston</text><text x="195.3" y="172.6" font-size="5.6" textLength="17.1" lengthAdjust="spacingAndGlyphs" fill="#3c3c3c" stroke="#3c3c3c" stroke-width="0.06">Barbour</text><text x="178.8" y="160.7" font-size="5.6" textLength="15.9" lengthAdjust="spacingAndGlyphs" fill="#3c3c3c" stroke="#3c3c3c" stroke-width="0.06">Bullock</text><text x="207.9" y="147.6" font-size="5.6" textLength="15.6" lengthAdjust="spacingAndGlyphs" fill="#3c3c3c" stroke="#3c3c3c" stroke-width="0.06">Russell</text><text x="181.4" y="139.2" font-size="5.6" textLength="13.9" lengthAdjust="spacingAndGlyphs" fill="#3c3c3c" stroke="#3c3c3c" stroke-width="0.06">Macon</text><text x="200.3" y="127.9" font-size="5.6" textLength="7.6" lengthAdjust="spacingAndGlyphs" fill="#3c3c3c" stroke="#3c3c3c" stroke-width="0.06">Lee</text><text x="226.8" y="131.7" font-size="5.6" textLength="19.0" lengthAdjust="spacingAndGlyphs" fill="#3c3c3c" stroke="#3c3c3c" stroke-width="0.06">Columbus</text><text x="40.4" y="242.5" font-size="5.6" textLength="14.2" lengthAdjust="spacingAndGlyphs" fill="#3c3c3c" stroke="#3c3c3c" stroke-width="0.06">Mobile</text><text x="68" y="249.9" font-size="5.6" textLength="17.0" lengthAdjust="spacingAndGlyphs" fill="#3c3c3c" stroke="#3c3c3c" stroke-width="0.06">Baldwin</text><circle cx="77.4" cy="265.8" r="1.5" fill="#000"/><circle cx="193" cy="190.6" r="1.5" fill="#000"/><text x="71.2" y="263.2" font-size="5" textLength="11.4" lengthAdjust="spacingAndGlyphs" fill="#222">BAL-5</text><text x="186.5" y="188.9" font-size="5" textLength="12.3" lengthAdjust="spacingAndGlyphs" fill="#222">DLE-2</text><text x="18" y="67.6" font-size="3.9" textLength="15.4" lengthAdjust="spacingAndGlyphs" fill="#444">Starkville</text><text x="20.5" y="139" font-size="3.3" textLength="17" lengthAdjust="spacingAndGlyphs" fill="#666">Meridian</text><text x="104" y="263" font-size="3.3" textLength="18" lengthAdjust="spacingAndGlyphs" fill="#666">Pensacola</text></g><text x="7" y="37" font-size="5.5" textLength="13" lengthAdjust="spacingAndGlyphs" fill="#333" stroke="#333" stroke-width="0.15">34°N</text><text x="4.5" y="165" font-size="5.5" textLength="15" lengthAdjust="spacingAndGlyphs" fill="#333" stroke="#333" stroke-width="0.15">-32°N</text><text x="4.5" y="293.5" font-size="5.5" textLength="15.5" lengthAdjust="spacingAndGlyphs" fill="#333" stroke="#333" stroke-width="0.15">-30°N</text><text x="52.3" y="309" font-size="5.5" textLength="14" lengthAdjust="spacingAndGlyphs" fill="#333" stroke="#333" stroke-width="0.15">88°W</text><text x="26.6" y="39.4" font-size="7" style="font-family:'Liberation Serif',serif" text-anchor="middle" fill="#111">N</text><polygon points="26.2,42.7 19.3,61.1 26.2,57.2 32.6,61.1" fill="#111"/><rect x="120.7" y="237.3" width="75.4" height="2.6" fill="#000"/><rect x="140.2" y="237.9" width="18" height="1.4" fill="#fff"/><text x="121.7" y="234.5" font-size="5.2" text-anchor="middle" fill="#222">0</text><text x="139.8" y="234.5" font-size="5.2" text-anchor="middle" fill="#222">20</text><text x="158.5" y="234.5" font-size="5.2" text-anchor="middle" fill="#222">40</text><text x="196.1" y="234.5" font-size="5.2" text-anchor="middle" fill="#222">80</text><text x="199" y="240" font-size="7.2" textLength="16.8" lengthAdjust="spacingAndGlyphs" fill="#222" stroke="#222" stroke-width="0.12">Miles</text><rect x="4" y="28.2" width="243.8" height="284.2" fill="none" stroke="#a0a0a0" stroke-width="0.8"/><rect x="160.3" y="40.9" width="86.4" height="78.2" fill="#fff" stroke="#555" stroke-width="0.7"/><text x="162.8" y="49.2" font-size="9" textLength="26.2" lengthAdjust="spacingAndGlyphs" fill="#111" stroke="#111" stroke-width="0.1">Legend</text><circle cx="166" cy="63.7" r="2.9" fill="#000"/><text x="173.9" y="66.6" font-size="9.3" textLength="65.8" lengthAdjust="spacingAndGlyphs" fill="#111" stroke="#111" stroke-width="0.1">Observation Wells</text><line x1="160.7" y1="76.4" x2="170.7" y2="76.4" stroke="#f05050" stroke-width="0.7"/><text x="174.4" y="79.3" font-size="9.3" textLength="18.1" lengthAdjust="spacingAndGlyphs" fill="#111" stroke="#111" stroke-width="0.1">Fault</text><circle cx="163.8" cy="88.7" r="2.3" fill="#fff" stroke="#111" stroke-width="0.75"/><circle cx="163.8" cy="88.7" r="0.7" fill="#111"/><text x="173.9" y="91.8" font-size="9.3" textLength="54.4" lengthAdjust="spacingAndGlyphs" fill="#111" stroke="#111" stroke-width="0.1">Pumping Wells</text><rect x="161.5" y="99.6" width="9" height="4.4" rx="2" fill="#dcdcdc"/><text x="174.4" y="104.5" font-size="9.3" textLength="26" lengthAdjust="spacingAndGlyphs" fill="#111" stroke="#111" stroke-width="0.1">County</text><rect x="161.2" y="109.6" width="9.5" height="5.8" fill="#fff" stroke="#444" stroke-width="0.6"/><text x="174.4" y="115.1" font-size="9.3" textLength="34.5" lengthAdjust="spacingAndGlyphs" fill="#111" stroke="#111" stroke-width="0.1">Boundary</text><rect x="124.4" y="247.4" width="109.8" height="64.4" fill="#fff" stroke="#888" stroke-width="0.6"/><polygon points="192.5,285.6 198.5,285.6 199.2,289.1 199.2,291.0 194.4,291.0 194.4,292.3 193.2,292.1 192.5,292.1" fill="#ff0000"/><polyline points="142.2,259.0 142.2,264.3 142.4,265.0 141.9,267.3 142.2,271.4" fill="none" stroke="#666" stroke-width="0.3"/><polyline points="129.5,264.0 138.7,264.3 142.2,264.3" fill="none" stroke="#666" stroke-width="0.3"/><polyline points="129.5,271.4 152.8,271.4" fill="none" stroke="#666" stroke-width="0.3"/><polyline points="136.9,271.4 136.9,276.7 146.5,283.8" fill="none" stroke="#666" stroke-width="0.3"/><polyline points="144.0,259.0 144.0,261.7 146.7,263.3 149.3,266.1 152.8,267.0" fill="none" stroke="#666" stroke-width="0.3"/><polyline points="152.8,266.1 165.2,266.1" fill="none" stroke="#666" stroke-width="0.3"/><polyline points="152.8,266.1 152.8,273.2 165.2,273.2" fill="none" stroke="#666" stroke-width="0.3"/><polyline points="147.5,271.4 147.5,280.2 146.5,283.4" fill="none" stroke="#666" stroke-width="0.3"/><polyline points="147.5,280.2 168.8,280.2" fill="none" stroke="#666" stroke-width="0.3"/><polyline points="152.8,273.2 152.8,280.2" fill="none" stroke="#666" stroke-width="0.3"/><polyline points="156.4,273.2 156.4,290.3" fill="none" stroke="#666" stroke-width="0.3"/><polyline points="165.2,259.0 165.2,273.2 168.8,273.2 168.8,274.9 180.6,274.9" fill="none" stroke="#666" stroke-width="0.3"/><polyline points="167.0,280.2 167.0,289.1 160.6,289.1" fill="none" stroke="#666" stroke-width="0.3"/><polyline points="165.2,264.3 178.3,264.3" fill="none" stroke="#666" stroke-width="0.3"/><polyline points="165.2,269.6 178.5,269.6" fill="none" stroke="#666" stroke-width="0.3"/><polyline points="168.8,274.9 168.8,280.2" fill="none" stroke="#666" stroke-width="0.3"/><polyline points="177.3,259.0 178.3,264.3 178.5,268.7 178.5,270.5" fill="none" stroke="#666" stroke-width="0.3"/><polyline points="178.5,268.7 187.9,268.7" fill="none" stroke="#666" stroke-width="0.3"/><polyline points="179.8,273.9 187.5,273.9" fill="none" stroke="#666" stroke-width="0.3"/><polyline points="180.6,274.9 181.9,280.2 182.2,286.3 182.9,287.3 182.9,289.3 183.8,290.9 183.3,293.2" fill="none" stroke="#666" stroke-width="0.3"/><polyline points="167.0,281.1 172.3,281.1 172.3,284.7 177.6,285.9 182.2,286.3" fill="none" stroke="#666" stroke-width="0.3"/><polyline points="168.8,280.2 181.9,280.2" fill="none" stroke="#666" stroke-width="0.3"/><polyline points="181.9,281.1 190.6,281.1" fill="none" stroke="#666" stroke-width="0.3"/><polyline points="182.9,287.3 187.9,287.3" fill="none" stroke="#666" stroke-width="0.3"/><polyline points="187.2,290.9 190.6,290.9 190.7,292.3" fill="none" stroke="#666" stroke-width="0.3"/><polyline points="187.9,268.7 187.9,270.5 189.0,272.3 187.5,273.9 189.7,277.1 190.9,280.2 189.5,283.8 187.9,287.3 187.2,290.9" fill="none" stroke="#666" stroke-width="0.3"/><polyline points="186.1,263.1 186.1,264.3 185.1,265.2 187.9,268.7" fill="none" stroke="#666" stroke-width="0.3"/><polyline points="189.0,270.5 193.9,270.5" fill="none" stroke="#666" stroke-width="0.3"/><polyline points="194.4,271.9 194.4,278.5 193.6,278.8" fill="none" stroke="#666" stroke-width="0.3"/><polyline points="191.4,280.2 199.2,276.5 206.8,273.9" fill="none" stroke="#666" stroke-width="0.3"/><polyline points="199.2,271.9 199.2,276.5" fill="none" stroke="#666" stroke-width="0.3"/><polyline points="193.9,271.9 202.9,271.9" fill="none" stroke="#666" stroke-width="0.3"/><polyline points="190.6,281.1 204.7,281.0 215.0,281.0" fill="none" stroke="#666" stroke-width="0.3"/><polyline points="189.5,283.8 200.1,283.8 202.2,283.8 206.1,283.4 209.5,285.0 210.4,285.7" fill="none" stroke="#666" stroke-width="0.3"/><polyline points="193.2,283.8 192.9,289.3 192.9,291.9" fill="none" stroke="#666" stroke-width="0.3"/><polyline points="197.8,283.8 198.9,289.1 198.9,290.9 194.3,290.9 194.4,291.9" fill="none" stroke="#666" stroke-width="0.3"/><polyline points="198.9,290.9 199.0,291.4 203.8,291.6 205.2,291.4" fill="none" stroke="#666" stroke-width="0.3"/><polyline points="202.2,283.8 203.5,286.3 206.1,288.9" fill="none" stroke="#666" stroke-width="0.3"/><polyline points="206.8,271.4 206.8,275.5 215.2,275.5" fill="none" stroke="#666" stroke-width="0.3"/><polyline points="208.1,270.9 215.7,271.4 217.1,272.5" fill="none" stroke="#666" stroke-width="0.3"/><polyline points="219.0,266.1 219.8,270.2 219.0,273.2" fill="none" stroke="#666" stroke-width="0.3"/><polyline points="222.8,266.1 223.5,270.2" fill="none" stroke="#666" stroke-width="0.3"/><polyline points="219.2,271.2 224.0,269.8" fill="none" stroke="#666" stroke-width="0.3"/><polyline points="204.7,281.0 206.8,278.8 208.6,276.4 211.8,276.2 213.4,277.9" fill="none" stroke="#666" stroke-width="0.3"/><polyline points="203.1,278.1 204.7,279.9" fill="none" stroke="#666" stroke-width="0.3"/><polyline points="200.1,283.8 202.2,282.9 204.7,281.0" fill="none" stroke="#666" stroke-width="0.3"/><polyline points="223.5,265.6 224.2,269.5" fill="none" stroke="#666" stroke-width="0.3"/><polyline points="219.2,271.3 222.2,271.4 222.2,272.6" fill="none" stroke="#666" stroke-width="0.3"/><polyline points="217.1,272.5 216.4,274.9 215.7,275.5" fill="none" stroke="#666" stroke-width="0.3"/><polyline points="215.2,275.5 215.2,277.7 216.4,277.7" fill="none" stroke="#666" stroke-width="0.3"/><polyline points="201.2,281.0 204.2,279.4 204.7,279.9" fill="none" stroke="#666" stroke-width="0.3"/><polyline points="206.8,273.9 206.5,275.5 204.7,276.4 203.1,277.8" fill="none" stroke="#666" stroke-width="0.3"/><polyline points="178.5,270.5 179.4,272.3 179.8,273.9" fill="none" stroke="#666" stroke-width="0.3"/><polyline points="152.8,267.0 152.8,266.1" fill="none" stroke="#666" stroke-width="0.3"/><polyline points="147.5,263.3 152.8,267.0" fill="none" stroke="#666" stroke-width="0.3"/><polyline points="172.3,281.1 167.0,281.1" fill="none" stroke="#666" stroke-width="0.3"/><polygon points="128.6,260.1 131.6,259.0 180.8,259.0 180.8,258.3 181.9,259.5 184.7,259.7 188.2,260.4 190.7,260.8 192.9,260.2 196.2,262.5 199.2,263.4 200.3,263.4 201.3,264.1 203.5,269.6 202.2,270.9 202.9,271.9 209.5,269.8 209.1,269.1 214.3,268.6 216.6,266.3 222.8,266.1 225.4,263.1 226.8,261.8 229.3,262.4 229.3,264.8 230.7,266.4 227.5,267.3 225.1,268.4 224.2,270.2 225.4,271.8 222.9,272.5 220.3,272.8 218.3,273.9 218.3,275.8 216.7,276.9 216.4,277.9 215.0,280.1 215.7,283.4 213.9,284.3 211.4,285.7 209.1,287.0 206.3,288.9 205.2,291.4 205.6,293.5 206.8,296.2 207.7,298.5 207.0,301.1 205.8,301.3 204.5,299.5 202.9,297.1 202.9,294.8 201.2,292.8 199.9,292.6 198.2,293.2 196.2,291.9 193.6,291.6 190.7,292.3 191.1,293.9 189.7,294.2 187.7,293.9 185.9,293.3 183.3,293.2 181.5,293.9 178.3,295.6 176.9,297.2 177.3,299.9 173.9,299.0 173.2,297.1 169.8,293.0 168.1,293.0 166.7,294.4 164.4,293.3 160.8,289.5 157.8,289.5 157.8,290.3 152.7,290.3 146.1,288.2 146.3,287.9 142.1,288.2 139.6,285.6 135.9,284.5 133.6,281.0 132.5,278.8 130.2,275.3 129.1,274.2 129.5,271.4 129.0,270.0 130.0,264.0 128.6,260.1" fill="none" stroke="#333" stroke-width="0.45"/><polygon points="196.2,271.8 199.2,271.9 201.5,271.9 203.3,270.3 203.3,269.6 203.5,268.2 202.6,267.7 201.9,268.0 201.5,267.9 201.9,266.4 200.6,264.7 199.4,264.7 198.0,265.7 197.1,266.8 196.6,267.9 196.2,269.3 196.7,270.7" fill="#fff" stroke="#333" stroke-width="0.4"/><polyline points="189.3,263.3 194.4,263.4 198.9,262.9 199.8,263.4 199.6,264.5 198.0,264.1 196.0,264.7 194.3,265.9 193.6,264.7" fill="none" stroke="#333" stroke-width="0.4"/><polyline points="194.4,271.9 193.9,270.5 193.7,268.7 194.4,266.4 194.3,265.9" fill="none" stroke="#333" stroke-width="0.4"/><text x="3.8" y="10.4" font-size="8.8" text-anchor="start" fill="#111" textLength="9.4" lengthAdjust="spacingAndGlyphs" stroke="#111" stroke-width="0.15">(a)</text><text x="261.8" y="10.8" font-size="8.8" text-anchor="start" fill="#111" textLength="10.7" lengthAdjust="spacingAndGlyphs" stroke="#111" stroke-width="0.15">(b)</text><text x="404.9" y="11.6" font-size="8.8" text-anchor="start" fill="#111" textLength="9.6" lengthAdjust="spacingAndGlyphs" stroke="#111" stroke-width="0.15">(c)</text><text x="264.5" y="21.9" font-size="9.8" text-anchor="start" fill="#111" textLength="22.7" lengthAdjust="spacingAndGlyphs" stroke="#111" stroke-width="0.12">BAL-5</text><text x="406.6" y="23.6" font-size="9.8" text-anchor="start" fill="#111" textLength="22.2" lengthAdjust="spacingAndGlyphs" stroke="#111" stroke-width="0.12">BAL-5</text><text x="269.5" y="144.5" font-size="10.4" text-anchor="start" fill="#111" textLength="23.4" lengthAdjust="spacingAndGlyphs" stroke="#111" stroke-width="0.12">DLE-2</text><text x="409.6" y="144.5" font-size="10.4" text-anchor="start" fill="#111" textLength="23.4" lengthAdjust="spacingAndGlyphs" stroke="#111" stroke-width="0.12">DLE-2</text><rect x="279.4" y="30.2" width="118.90000000000003" height="91.2" fill="#fff"/><line x1="291" y1="30.2" x2="291" y2="121.4" stroke="#f6f6f6" stroke-width="0.5"/><line x1="317" y1="30.2" x2="317" y2="121.4" stroke="#f6f6f6" stroke-width="0.5"/><line x1="343.5" y1="30.2" x2="343.5" y2="121.4" stroke="#f6f6f6" stroke-width="0.5"/><line x1="370.8" y1="30.2" x2="370.8" y2="121.4" stroke="#f6f6f6" stroke-width="0.5"/><line x1="279.4" y1="41.5" x2="398.3" y2="41.5" stroke="#f6f6f6" stroke-width="0.5"/><line x1="279.4" y1="64.5" x2="398.3" y2="64.5" stroke="#f6f6f6" stroke-width="0.5"/><line x1="279.4" y1="87.5" x2="398.3" y2="87.5" stroke="#f6f6f6" stroke-width="0.5"/><line x1="279.4" y1="110.4" x2="398.3" y2="110.4" stroke="#f6f6f6" stroke-width="0.5"/><line x1="304.2" y1="30.2" x2="304.2" y2="121.4" stroke="#ededed" stroke-width="0.7"/><line x1="329.8" y1="30.2" x2="329.8" y2="121.4" stroke="#ededed" stroke-width="0.7"/><line x1="357.3" y1="30.2" x2="357.3" y2="121.4" stroke="#ededed" stroke-width="0.7"/><line x1="384.3" y1="30.2" x2="384.3" y2="121.4" stroke="#ededed" stroke-width="0.7"/><line x1="279.4" y1="53.0" x2="398.3" y2="53.0" stroke="#ededed" stroke-width="0.7"/><line x1="279.4" y1="76.0" x2="398.3" y2="76.0" stroke="#ededed" stroke-width="0.7"/><line x1="279.4" y1="98.9" x2="398.3" y2="98.9" stroke="#ededed" stroke-width="0.7"/><polyline points="287.6,60.0 290.5,55.9 293.6,59.4 322.3,75.2 350.8,91.1 355.5,92.0 358.4,90.5 394.3,96.8" fill="none" stroke="#ff3030" stroke-width="1.5" stroke-linejoin="round" stroke-linecap="round"/><polyline points="285.3,39.5 285.6,41.5 286.4,44.7 290.0,45.5 297.0,46.0 303.0,44.5 310.0,42.0 316.0,40.3 323.0,39.7 330.2,39.5 333.0,41.5 336.3,45.0 341.0,48.0 345.8,52.9 349.0,53.8 352.9,54.0 356.0,55.0 359.2,57.1 362.0,60.0 364.7,63.4 368.0,65.5 371.0,66.7 375.7,67.8 379.7,71.3 383.6,76.2" fill="none" stroke="#0a0af0" stroke-width="2.0" stroke-linejoin="round" stroke-linecap="round"/><rect x="279.4" y="30.2" width="118.90000000000003" height="91.2" fill="none" stroke="#a6a6a6" stroke-width="0.8"/><line x1="304.2" y1="121.4" x2="304.2" y2="123.0" stroke="#444" stroke-width="0.5"/><text x="304.2" y="126.60000000000001" font-size="4.0" text-anchor="middle" fill="#4d4d4d" >Jan 2021</text><line x1="329.8" y1="121.4" x2="329.8" y2="123.0" stroke="#444" stroke-width="0.5"/><text x="329.8" y="126.60000000000001" font-size="4.0" text-anchor="middle" fill="#4d4d4d" >Apr 2021</text><line x1="357.3" y1="121.4" x2="357.3" y2="123.0" stroke="#444" stroke-width="0.5"/><text x="357.3" y="126.60000000000001" font-size="4.0" text-anchor="middle" fill="#4d4d4d" >Jul 2021</text><line x1="384.3" y1="121.4" x2="384.3" y2="123.0" stroke="#444" stroke-width="0.5"/><text x="384.3" y="126.60000000000001" font-size="4.0" text-anchor="middle" fill="#4d4d4d" >Oct 2021</text><line x1="277.79999999999995" y1="53.0" x2="279.4" y2="53.0" stroke="#444" stroke-width="0.5"/><text x="277.09999999999997" y="54.4" font-size="4.0" text-anchor="end" fill="#4d4d4d" >25.0</text><line x1="277.79999999999995" y1="76.0" x2="279.4" y2="76.0" stroke="#444" stroke-width="0.5"/><text x="277.09999999999997" y="77.4" font-size="4.0" text-anchor="end" fill="#4d4d4d" >22.5</text><line x1="277.79999999999995" y1="98.9" x2="279.4" y2="98.9" stroke="#444" stroke-width="0.5"/><text x="277.09999999999997" y="100.30000000000001" font-size="4.0" text-anchor="end" fill="#4d4d4d" >20.0</text><text x="339.1" y="131.8" font-size="4.9" text-anchor="middle" fill="#111" >Date</text><text transform="translate(268.2,76.8) rotate(-90)" font-size="4.8" text-anchor="middle" fill="#111">Head (ft)</text><rect x="430.5" y="28.6" width="115.60000000000002" height="95.69999999999999" fill="#fff"/><line x1="437.7" y1="28.6" x2="437.7" y2="124.3" stroke="#f6f6f6" stroke-width="0.5"/><line x1="458.5" y1="28.6" x2="458.5" y2="124.3" stroke="#f6f6f6" stroke-width="0.5"/><line x1="479.4" y1="28.6" x2="479.4" y2="124.3" stroke="#f6f6f6" stroke-width="0.5"/><line x1="500.2" y1="28.6" x2="500.2" y2="124.3" stroke="#f6f6f6" stroke-width="0.5"/><line x1="521" y1="28.6" x2="521" y2="124.3" stroke="#f6f6f6" stroke-width="0.5"/><line x1="541.8" y1="28.6" x2="541.8" y2="124.3" stroke="#f6f6f6" stroke-width="0.5"/><line x1="430.5" y1="41" x2="546.1" y2="41" stroke="#f6f6f6" stroke-width="0.5"/><line x1="430.5" y1="64.7" x2="546.1" y2="64.7" stroke="#f6f6f6" stroke-width="0.5"/><line x1="430.5" y1="88.4" x2="546.1" y2="88.4" stroke="#f6f6f6" stroke-width="0.5"/><line x1="430.5" y1="112.1" x2="546.1" y2="112.1" stroke="#f6f6f6" stroke-width="0.5"/><line x1="448.1" y1="28.6" x2="448.1" y2="124.3" stroke="#ededed" stroke-width="0.7"/><line x1="468.9" y1="28.6" x2="468.9" y2="124.3" stroke="#ededed" stroke-width="0.7"/><line x1="489.8" y1="28.6" x2="489.8" y2="124.3" stroke="#ededed" stroke-width="0.7"/><line x1="510.6" y1="28.6" x2="510.6" y2="124.3" stroke="#ededed" stroke-width="0.7"/><line x1="531.4" y1="28.6" x2="531.4" y2="124.3" stroke="#ededed" stroke-width="0.7"/><line x1="430.5" y1="52.9" x2="546.1" y2="52.9" stroke="#ededed" stroke-width="0.7"/><line x1="430.5" y1="76.6" x2="546.1" y2="76.6" stroke="#ededed" stroke-width="0.7"/><line x1="430.5" y1="100.3" x2="546.1" y2="100.3" stroke="#ededed" stroke-width="0.7"/><polyline points="447.3,98.1 470.0,98.6 511.0,99.6 520.0,99.8 531.0,100.2 541.0,100.4" fill="none" stroke="#ff3030" stroke-width="0.9" stroke-linejoin="round" stroke-linecap="round"/><circle cx="470" cy="98.6" r="0.9" fill="#ff3030"/><circle cx="511" cy="99.6" r="0.9" fill="#ff3030"/><circle cx="520" cy="99.8" r="0.9" fill="#ff3030"/><circle cx="531" cy="100.2" r="0.9" fill="#ff3030"/><circle cx="541" cy="100.4" r="0.9" fill="#ff3030"/><circle cx="436" cy="53.5" r="0.9" fill="#ff3030"/><polyline points="436.0,55.2 442.3,91.8 444.0,94.3 447.3,98.1" fill="none" stroke="#ff3030" stroke-width="2.0" stroke-linejoin="round" stroke-linecap="round"/><polyline points="435.2,38.9 435.5,46.4 437.0,44.0 439.2,37.6 440.3,40.0 441.5,50.2 442.8,56.5 443.5,62.0 445.3,76.7" fill="none" stroke="#0a0af0" stroke-width="2.2" stroke-linejoin="round" stroke-linecap="round"/><circle cx="435" cy="40.5" r="0.9" fill="#0a0af0"/><circle cx="435.3" cy="42.5" r="0.9" fill="#0a0af0"/><rect x="430.5" y="28.6" width="115.60000000000002" height="95.69999999999999" fill="none" stroke="#a6a6a6" stroke-width="0.8"/><line x1="448.1" y1="124.3" x2="448.1" y2="125.89999999999999" stroke="#444" stroke-width="0.5"/><text x="448.1" y="129.5" font-size="4.0" text-anchor="middle" fill="#4d4d4d" >2022</text><line x1="468.9" y1="124.3" x2="468.9" y2="125.89999999999999" stroke="#444" stroke-width="0.5"/><text x="468.9" y="129.5" font-size="4.0" text-anchor="middle" fill="#4d4d4d" >2024</text><line x1="489.8" y1="124.3" x2="489.8" y2="125.89999999999999" stroke="#444" stroke-width="0.5"/><text x="489.8" y="129.5" font-size="4.0" text-anchor="middle" fill="#4d4d4d" >2026</text><line x1="510.6" y1="124.3" x2="510.6" y2="125.89999999999999" stroke="#444" stroke-width="0.5"/><text x="510.6" y="129.5" font-size="4.0" text-anchor="middle" fill="#4d4d4d" >2028</text><line x1="531.4" y1="124.3" x2="531.4" y2="125.89999999999999" stroke="#444" stroke-width="0.5"/><text x="531.4" y="129.5" font-size="4.0" text-anchor="middle" fill="#4d4d4d" >2030</text><line x1="428.9" y1="52.9" x2="430.5" y2="52.9" stroke="#444" stroke-width="0.5"/><text x="428.2" y="54.3" font-size="4.0" text-anchor="end" fill="#4d4d4d" >25.0</text><line x1="428.9" y1="76.6" x2="430.5" y2="76.6" stroke="#444" stroke-width="0.5"/><text x="428.2" y="78.0" font-size="4.0" text-anchor="end" fill="#4d4d4d" >22.5</text><line x1="428.9" y1="100.3" x2="430.5" y2="100.3" stroke="#444" stroke-width="0.5"/><text x="428.2" y="101.7" font-size="4.0" text-anchor="end" fill="#4d4d4d" >20.0</text><text x="488.3" y="134.5" font-size="4.9" text-anchor="middle" fill="#111" >Date</text><text transform="translate(418.9,76.3) rotate(-90)" font-size="4.8" text-anchor="middle" fill="#111">Head (ft)</text><rect x="495.5" y="34.4" width="47.89999999999998" height="39.00000000000001" fill="#fff" stroke="#111" stroke-width="0.8"/><text x="499.2" y="50.0" font-size="7.0" text-anchor="start" fill="#111" textLength="11.5" lengthAdjust="spacingAndGlyphs" >Type</text><line x1="499.5" y1="56.4" x2="505.0" y2="56.4" stroke="#ff2a2a" stroke-width="0.8"/><circle cx="502.25" cy="56.4" r="0.8" fill="#ff2a2a"/><text x="508.2" y="58.0" font-size="4.5" text-anchor="start" fill="#111" textLength="33.1" lengthAdjust="spacingAndGlyphs" >Computed Head</text><line x1="499.5" y1="63.5" x2="505.0" y2="63.5" stroke="#1010f0" stroke-width="0.8"/><circle cx="502.25" cy="63.5" r="0.8" fill="#1010f0"/><text x="508.2" y="65.1" font-size="4.5" text-anchor="start" fill="#111" textLength="20.5" lengthAdjust="spacingAndGlyphs" >Obs.Head</text><rect x="280.2" y="154.3" width="122.19999999999999" height="99.19999999999999" fill="#fff"/><line x1="290" y1="154.3" x2="290" y2="253.5" stroke="#f6f6f6" stroke-width="0.5"/><line x1="317.8" y1="154.3" x2="317.8" y2="253.5" stroke="#f6f6f6" stroke-width="0.5"/><line x1="345.7" y1="154.3" x2="345.7" y2="253.5" stroke="#f6f6f6" stroke-width="0.5"/><line x1="373.4" y1="154.3" x2="373.4" y2="253.5" stroke="#f6f6f6" stroke-width="0.5"/><line x1="401" y1="154.3" x2="401" y2="253.5" stroke="#f6f6f6" stroke-width="0.5"/><line x1="280.2" y1="170.1" x2="402.4" y2="170.1" stroke="#f6f6f6" stroke-width="0.5"/><line x1="280.2" y1="192.6" x2="402.4" y2="192.6" stroke="#f6f6f6" stroke-width="0.5"/><line x1="280.2" y1="215" x2="402.4" y2="215" stroke="#f6f6f6" stroke-width="0.5"/><line x1="280.2" y1="237.4" x2="402.4" y2="237.4" stroke="#f6f6f6" stroke-width="0.5"/><line x1="303.9" y1="154.3" x2="303.9" y2="253.5" stroke="#ededed" stroke-width="0.7"/><line x1="331.8" y1="154.3" x2="331.8" y2="253.5" stroke="#ededed" stroke-width="0.7"/><line x1="359.6" y1="154.3" x2="359.6" y2="253.5" stroke="#ededed" stroke-width="0.7"/><line x1="387.2" y1="154.3" x2="387.2" y2="253.5" stroke="#ededed" stroke-width="0.7"/><line x1="280.2" y1="158.9" x2="402.4" y2="158.9" stroke="#ededed" stroke-width="0.7"/><line x1="280.2" y1="181.4" x2="402.4" y2="181.4" stroke="#ededed" stroke-width="0.7"/><line x1="280.2" y1="203.8" x2="402.4" y2="203.8" stroke="#ededed" stroke-width="0.7"/><line x1="280.2" y1="226.2" x2="402.4" y2="226.2" stroke="#ededed" stroke-width="0.7"/><line x1="280.2" y1="248.7" x2="402.4" y2="248.7" stroke="#ededed" stroke-width="0.7"/><polyline points="288.3,191.2 291.6,184.1 294.0,185.4 295.8,182.9 297.9,183.4 299.9,201.8 301.5,205.0 303.5,208.6 310.5,210.3 312.0,211.2 313.0,210.8 320.0,211.5 341.4,214.3 355.3,216.8 360.3,215.0 396.9,213.0" fill="none" stroke="#ff3030" stroke-width="1.5" stroke-linejoin="round" stroke-linecap="round"/><polyline points="285.2,176.9 288.0,175.6 291.5,173.5 294.0,176.5 297.0,175.0 300.4,174.1 302.0,175.0 304.2,176.6 306.1,178.3 308.1,180.0 310.0,180.4 312.0,183.0 314.0,185.0 316.0,188.5 318.0,190.7 320.0,191.0 322.0,193.8 323.8,195.0 325.6,195.7 327.8,197.4 330.0,198.5 331.9,199.6 333.8,201.7 335.7,202.3 338.0,203.5 340.4,204.6 342.7,205.2 345.0,203.9 347.7,200.9 349.9,200.8 352.0,199.5 354.3,199.0 356.7,198.1 359.0,197.7 361.0,197.7 363.0,197.8 365.0,199.3 367.0,199.2 369.0,198.8 371.0,198.5 373.0,197.7 376.0,199.6 379.2,201.4 381.1,199.9 383.0,199.9 384.9,198.6 386.8,198.0" fill="none" stroke="#0a0af0" stroke-width="2.5" stroke-linejoin="round" stroke-linecap="round"/><rect x="280.2" y="154.3" width="122.19999999999999" height="99.19999999999999" fill="none" stroke="#a6a6a6" stroke-width="0.8"/><line x1="303.9" y1="253.5" x2="303.9" y2="255.1" stroke="#444" stroke-width="0.5"/><text x="303.9" y="258.7" font-size="4.0" text-anchor="middle" fill="#4d4d4d" >Jan 2021</text><line x1="331.8" y1="253.5" x2="331.8" y2="255.1" stroke="#444" stroke-width="0.5"/><text x="331.8" y="258.7" font-size="4.0" text-anchor="middle" fill="#4d4d4d" >Apr 2021</text><line x1="359.6" y1="253.5" x2="359.6" y2="255.1" stroke="#444" stroke-width="0.5"/><text x="359.6" y="258.7" font-size="4.0" text-anchor="middle" fill="#4d4d4d" >Jul 2021</text><line x1="387.2" y1="253.5" x2="387.2" y2="255.1" stroke="#444" stroke-width="0.5"/><text x="387.2" y="258.7" font-size="4.0" text-anchor="middle" fill="#4d4d4d" >Oct 2021</text><line x1="278.59999999999997" y1="158.9" x2="280.2" y2="158.9" stroke="#444" stroke-width="0.5"/><text x="277.9" y="160.3" font-size="4.0" text-anchor="end" fill="#4d4d4d" >178</text><line x1="278.59999999999997" y1="181.4" x2="280.2" y2="181.4" stroke="#444" stroke-width="0.5"/><text x="277.9" y="182.8" font-size="4.0" text-anchor="end" fill="#4d4d4d" >177</text><line x1="278.59999999999997" y1="203.8" x2="280.2" y2="203.8" stroke="#444" stroke-width="0.5"/><text x="277.9" y="205.20000000000002" font-size="4.0" text-anchor="end" fill="#4d4d4d" >176</text><line x1="278.59999999999997" y1="226.2" x2="280.2" y2="226.2" stroke="#444" stroke-width="0.5"/><text x="277.9" y="227.6" font-size="4.0" text-anchor="end" fill="#4d4d4d" >175</text><line x1="278.59999999999997" y1="248.7" x2="280.2" y2="248.7" stroke="#444" stroke-width="0.5"/><text x="277.9" y="250.1" font-size="4.0" text-anchor="end" fill="#4d4d4d" >174</text><text x="341.3" y="264.5" font-size="4.9" text-anchor="middle" fill="#111" >Date</text><text transform="translate(268.4,204.1) rotate(-90)" font-size="4.8" text-anchor="middle" fill="#111">Head (ft)</text><rect x="424.2" y="154.3" width="122.69999999999999" height="99.19999999999999" fill="#fff"/><line x1="431.85" y1="154.3" x2="431.85" y2="253.5" stroke="#f6f6f6" stroke-width="0.5"/><line x1="454.15" y1="154.3" x2="454.15" y2="253.5" stroke="#f6f6f6" stroke-width="0.5"/><line x1="476.45" y1="154.3" x2="476.45" y2="253.5" stroke="#f6f6f6" stroke-width="0.5"/><line x1="498.75" y1="154.3" x2="498.75" y2="253.5" stroke="#f6f6f6" stroke-width="0.5"/><line x1="521.05" y1="154.3" x2="521.05" y2="253.5" stroke="#f6f6f6" stroke-width="0.5"/><line x1="543.35" y1="154.3" x2="543.35" y2="253.5" stroke="#f6f6f6" stroke-width="0.5"/><line x1="424.2" y1="170.2" x2="546.9" y2="170.2" stroke="#f6f6f6" stroke-width="0.5"/><line x1="424.2" y1="192.8" x2="546.9" y2="192.8" stroke="#f6f6f6" stroke-width="0.5"/><line x1="424.2" y1="215.3" x2="546.9" y2="215.3" stroke="#f6f6f6" stroke-width="0.5"/><line x1="424.2" y1="237.7" x2="546.9" y2="237.7" stroke="#f6f6f6" stroke-width="0.5"/><line x1="443.0" y1="154.3" x2="443.0" y2="253.5" stroke="#ededed" stroke-width="0.7"/><line x1="465.3" y1="154.3" x2="465.3" y2="253.5" stroke="#ededed" stroke-width="0.7"/><line x1="487.6" y1="154.3" x2="487.6" y2="253.5" stroke="#ededed" stroke-width="0.7"/><line x1="509.9" y1="154.3" x2="509.9" y2="253.5" stroke="#ededed" stroke-width="0.7"/><line x1="532.2" y1="154.3" x2="532.2" y2="253.5" stroke="#ededed" stroke-width="0.7"/><line x1="424.2" y1="158.8" x2="546.9" y2="158.8" stroke="#ededed" stroke-width="0.7"/><line x1="424.2" y1="181.5" x2="546.9" y2="181.5" stroke="#ededed" stroke-width="0.7"/><line x1="424.2" y1="204.1" x2="546.9" y2="204.1" stroke="#ededed" stroke-width="0.7"/><line x1="424.2" y1="226.4" x2="546.9" y2="226.4" stroke="#ededed" stroke-width="0.7"/><line x1="424.2" y1="249.0" x2="546.9" y2="249.0" stroke="#ededed" stroke-width="0.7"/><polyline points="430.2,181.5 430.7,190.3 431.2,208.0 434.0,211.8 435.8,216.0 437.8,214.3 441.6,213.5" fill="none" stroke="#ff3030" stroke-width="1.6" stroke-linejoin="round" stroke-linecap="round"/><polyline points="441.6,213.5 541.0,213.5" fill="none" stroke="#ff3030" stroke-width="0.9" stroke-linejoin="round" stroke-linecap="round"/><circle cx="430.4" cy="184" r="0.9" fill="#ff3030"/><circle cx="430.6" cy="188" r="0.9" fill="#ff3030"/><circle cx="431" cy="195" r="0.9" fill="#ff3030"/><circle cx="431.1" cy="200" r="0.9" fill="#ff3030"/><circle cx="431.2" cy="204" r="0.9" fill="#ff3030"/><circle cx="441.6" cy="213.5" r="0.9" fill="#ff3030"/><circle cx="465" cy="213.5" r="0.9" fill="#ff3030"/><circle cx="509.8" cy="213.5" r="0.9" fill="#ff3030"/><circle cx="520" cy="213.5" r="0.9" fill="#ff3030"/><circle cx="531" cy="213.5" r="0.9" fill="#ff3030"/><circle cx="541" cy="213.5" r="0.9" fill="#ff3030"/><polyline points="429.0,174.0 430.2,171.4 431.5,177.7 432.7,187.8 434.7,199.2 435.8,204.2 437.3,199.2 438.3,196.6 440.3,200.4 439.0,202.9" fill="none" stroke="#0a0af0" stroke-width="2.4" stroke-linejoin="round" stroke-linecap="round"/><rect x="424.2" y="154.3" width="122.69999999999999" height="99.19999999999999" fill="none" stroke="#a6a6a6" stroke-width="0.8"/><line x1="443.0" y1="253.5" x2="443.0" y2="255.1" stroke="#444" stroke-width="0.5"/><text x="443.0" y="258.7" font-size="4.0" text-anchor="middle" fill="#4d4d4d" >2022</text><line x1="465.3" y1="253.5" x2="465.3" y2="255.1" stroke="#444" stroke-width="0.5"/><text x="465.3" y="258.7" font-size="4.0" text-anchor="middle" fill="#4d4d4d" >2024</text><line x1="487.6" y1="253.5" x2="487.6" y2="255.1" stroke="#444" stroke-width="0.5"/><text x="487.6" y="258.7" font-size="4.0" text-anchor="middle" fill="#4d4d4d" >2026</text><line x1="509.9" y1="253.5" x2="509.9" y2="255.1" stroke="#444" stroke-width="0.5"/><text x="509.9" y="258.7" font-size="4.0" text-anchor="middle" fill="#4d4d4d" >2028</text><line x1="532.2" y1="253.5" x2="532.2" y2="255.1" stroke="#444" stroke-width="0.5"/><text x="532.2" y="258.7" font-size="4.0" text-anchor="middle" fill="#4d4d4d" >2030</text><line x1="422.59999999999997" y1="158.8" x2="424.2" y2="158.8" stroke="#444" stroke-width="0.5"/><text x="421.9" y="160.20000000000002" font-size="4.0" text-anchor="end" fill="#4d4d4d" >178</text><line x1="422.59999999999997" y1="181.5" x2="424.2" y2="181.5" stroke="#444" stroke-width="0.5"/><text x="421.9" y="182.9" font-size="4.0" text-anchor="end" fill="#4d4d4d" >177</text><line x1="422.59999999999997" y1="204.1" x2="424.2" y2="204.1" stroke="#444" stroke-width="0.5"/><text x="421.9" y="205.5" font-size="4.0" text-anchor="end" fill="#4d4d4d" >176</text><line x1="422.59999999999997" y1="226.4" x2="424.2" y2="226.4" stroke="#444" stroke-width="0.5"/><text x="421.9" y="227.8" font-size="4.0" text-anchor="end" fill="#4d4d4d" >175</text><line x1="422.59999999999997" y1="249.0" x2="424.2" y2="249.0" stroke="#444" stroke-width="0.5"/><text x="421.9" y="250.4" font-size="4.0" text-anchor="end" fill="#4d4d4d" >174</text><text x="486" y="264.8" font-size="4.9" text-anchor="middle" fill="#111" >Date</text><text transform="translate(413.5,204.5) rotate(-90)" font-size="4.8" text-anchor="middle" fill="#111">Head (ft)</text><rect x="495.7" y="155.8" width="47.69999999999999" height="39.79999999999998" fill="#fff" stroke="#111" stroke-width="0.8"/><text x="499.4" y="171.4" font-size="7.0" text-anchor="start" fill="#111" textLength="11.5" lengthAdjust="spacingAndGlyphs" >Type</text><line x1="499.7" y1="177.8" x2="505.2" y2="177.8" stroke="#ff2a2a" stroke-width="0.8"/><circle cx="502.45" cy="177.8" r="0.8" fill="#ff2a2a"/><text x="508.4" y="179.4" font-size="4.5" text-anchor="start" fill="#111" textLength="33.1" lengthAdjust="spacingAndGlyphs" >Computed Head</text><line x1="499.7" y1="184.9" x2="505.2" y2="184.9" stroke="#1010f0" stroke-width="0.8"/><circle cx="502.45" cy="184.9" r="0.8" fill="#1010f0"/><text x="508.4" y="186.5" font-size="4.5" text-anchor="start" fill="#111" textLength="20.5" lengthAdjust="spacingAndGlyphs" >Obs.Head</text></svg></body></html>
